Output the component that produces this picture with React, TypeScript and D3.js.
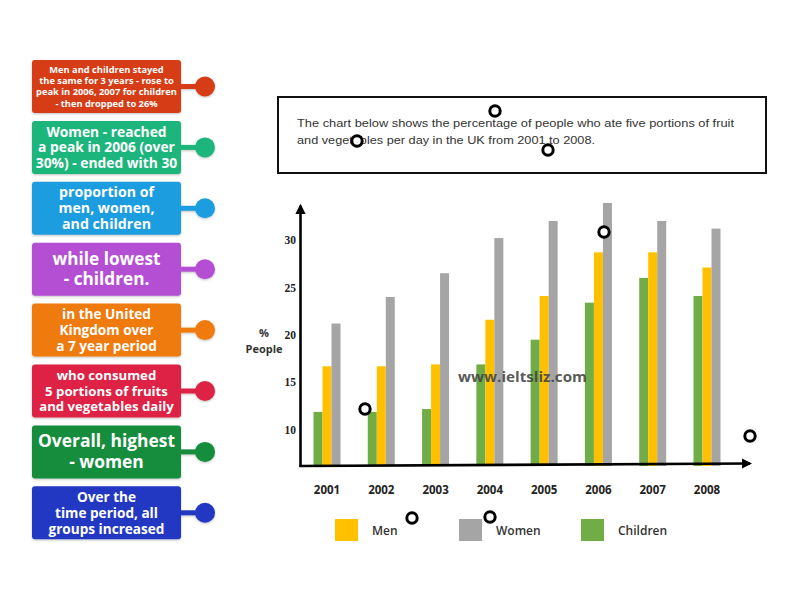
import React from "react";
import * as d3 from "d3";

// Chart data: % of people eating five portions of fruit and vegetables a day (UK)
const years = ["2001", "2002", "2003", "2004", "2005", "2006", "2007", "2008"];
const children = [11.9, 11.9, 12.2, 16.9, 19.5, 23.4, 26.0, 24.1];
const men = [16.7, 16.7, 16.9, 21.6, 24.1, 28.7, 28.7, 27.1];
const women = [21.2, 24.0, 26.5, 30.2, 32.0, 33.9, 32.0, 31.2];
const yTicks = [10, 15, 20, 25, 30];
const seriesNames = ["Children", "Men", "Women"];
const legendNames = ["Men", "Women", "Children"];

// Sentence fragments shown in the draggable labels on the left
const labelLines = [
  ["Men and children stayed", "the same for 3 years - rose to", "peak in 2006, 2007 for children", "- then dropped to 26%"],
  ["Women - reached", "a peak in 2006 (over", "30%) - ended with 30"],
  ["proportion of", "men, women,", "and children"],
  ["while lowest", "- children."],
  ["in the United", "Kingdom over", "a 7 year period"],
  ["who consumed", "5 portions of fruits", "and vegetables daily"],
  ["Overall, highest", "- women"],
  ["Over the", "time period, all", "groups increased"],
];
const labelColors = ["#d63e12", "#1fb57b", "#1f9de0", "#b44fd4", "#ef7a0b", "#dd2444", "#138c3d", "#2139c3"];
const labelFont = [9.3, 13.8, 14.2, 17.2, 13.6, 13.2, 17.4, 13.6];
const labelLeading = [11.4, 15.6, 16, 20, 16, 15.6, 21, 16];

const titleLines = [
  "The chart below shows the percentage of people who ate five portions of fruit",
  "and vegetables per day in the UK from 2001 to 2008.",
];

// Drop-target rings placed over the worksheet
const targets: [number, number][] = [
  [495, 111], [357, 141], [548, 150], [365, 409], [604, 232], [750, 436], [412, 518], [490, 517],
];

const colors: Record<string, string> = { Men: "#ffc000", Women: "#a5a5a5", Children: "#70ad47" };

export default function App() {
  const baseY = 466;
  const axisX = 300.5;
  const y = d3.scaleLinear().domain([6.2, 30]).range([baseY, 240]);
  const x = d3.scalePoint<string>().domain(years).range([327, 707]);
  const inner = d3.scaleBand<string>().domain(seriesNames).range([-13.5, 13.5]);
  const values: Record<string, number[]> = { Children: children, Men: men, Women: women };

  const boxX = 32, boxW = 149, boxH = 53, boxTop = 60, boxStep = 60.9;

  return (
    <svg
      width={800}
      height={600}
      style={{ position: "absolute", left: 0, top: 0, background: "#fff" }}
      fontFamily="'Open Sans', sans-serif"
    >
      <defs>
        <filter id="sh" x="-10%" y="-10%" width="120%" height="130%">
          <feDropShadow dx="0" dy="1" stdDeviation="1" floodColor="#000" floodOpacity="0.25" />
        </filter>
        <marker id="arrow" viewBox="0 0 10 10" refX="8" refY="5" markerWidth="4" markerHeight="4" orient="auto">
          <path d="M0,0 L10,5 L0,10 Z" fill="#000" />
        </marker>
      </defs>

      {/* Left-hand labels */}
      {labelLines.map((lines, i) => {
        const top = boxTop + i * boxStep;
        const cy = top + boxH / 2;
        const fs = labelFont[i];
        const lh = labelLeading[i];
        const first = cy - ((lines.length - 1) * lh) / 2;
        const cx = boxX + boxW / 2;
        return (
          <g key={i}>
            <g filter="url(#sh)">
              <rect x={boxX + boxW - 2} y={cy - 2.5} width={205 - boxX - boxW} height={5} fill={labelColors[i]} />
              <circle cx={205} cy={cy} r={10} fill={labelColors[i]} />
              <rect x={boxX} y={top} width={boxW} height={boxH} rx={3} fill={labelColors[i]} />
            </g>
            <text textAnchor="middle" fontSize={fs} fontWeight={700} fill="#fff">
              {lines.map((t, j) => (
                <tspan key={j} x={cx} y={first + j * lh} dy="0.35em">
                  {t}
                </tspan>
              ))}
            </text>
          </g>
        );
      })}

      {/* Task description */}
      <rect x={278} y={97} width={488} height={76} fill="#fff" stroke="#111" strokeWidth={2} />
      <text fontSize={11.4} fill="#333" fontFamily="'Liberation Sans', sans-serif">
        {titleLines.map((t, i) => (
          <tspan
            key={i}
            x={297}
            y={123 + i * 17}
            dy="0.35em"
            textLength={i === 0 ? 437 : 298}
            lengthAdjust="spacingAndGlyphs"
          >
            {t}
          </tspan>
        ))}
      </text>

      {/* Bars */}
      {years.map((yr, i) => (
        <g key={yr} transform={`translate(${x(yr)},0)`}>
          {seriesNames.map((s) => (
            <rect
              key={s}
              x={inner(s)}
              y={y(values[s][i])}
              width={inner.bandwidth()}
              height={baseY - y(values[s][i])}
              fill={colors[s]}
            />
          ))}
        </g>
      ))}

      {/* Axes */}
      <line x1={axisX} y1={baseY + 1} x2={axisX} y2={y(33.6)} stroke="#000" strokeWidth={2.6} markerEnd="url(#arrow)" />
      <line x1={axisX - 1} y1={baseY} x2={750} y2={baseY - 2.5} stroke="#000" strokeWidth={2.6} markerEnd="url(#arrow)" />

      {yTicks.map((t) => (
        <text
          key={t}
          x={296}
          y={y(t)}
          dy="0.35em"
          textAnchor="end"
          fontSize={11.5}
          fontWeight={700}
          fill="#222"
          fontFamily="'Liberation Serif', serif"
        >
          {t}
        </text>
      ))}
      <text textAnchor="middle" fontSize={11} fontWeight={700} fill="#333">
        <tspan x={264} y={333} dy="0.35em">%</tspan>
        <tspan x={264} y={349} dy="0.35em">People</tspan>
      </text>

      {years.map((yr) => (
        <text key={yr} x={x(yr)} y={490} dy="0.35em" textAnchor="middle" fontSize={11.5} fontWeight={700} fill="#222">
          {yr}
        </text>
      ))}

      {/* Watermark */}
      <text
        x={458}
        y={377}
        dy="0.35em"
        fontSize={13.5}
        fontWeight={700}
        fill="#444"
        fillOpacity={0.9}
        textLength={129}
        lengthAdjust="spacingAndGlyphs"
      >
        www.ieltsliz.com
      </text>

      {/* Legend */}
      {legendNames.map((s, i) => {
        const lx = [335, 459, 581][i];
        return (
          <g key={s}>
            <rect x={lx} y={519} width={23} height={22} fill={colors[s]} />
            <text x={lx + 37} y={531} dy="0.35em" fontSize={12} fontWeight={600} fill="#333">
              {s}
            </text>
          </g>
        );
      })}

      {/* Drop targets */}
      {targets.map(([cx, cy], i) => (
        <circle key={i} cx={cx} cy={cy} r={5.2} fill="#fff" stroke="#000" strokeWidth={3} />
      ))}
    </svg>
  );
}
